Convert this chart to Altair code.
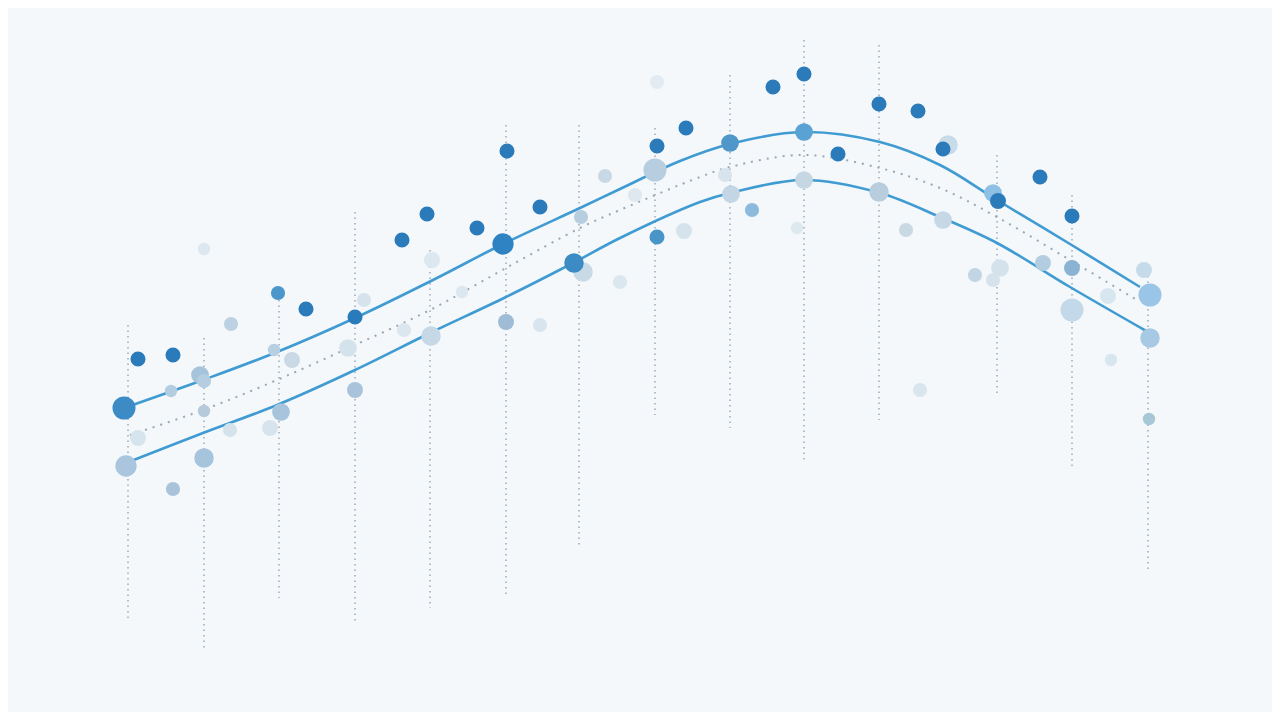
import altair as alt
import pandas as pd

# ---- vertical dotted guide lines (x, top, bottom) ----
guide_x = [128, 204, 279, 355, 430, 506, 579, 655, 730, 804, 879, 997, 1072, 1148]
guide_top = [325, 338, 300, 212, 250, 125, 125, 128, 75, 40, 45, 155, 195, 265]
guide_bot = [622, 650, 598, 622, 608, 597, 548, 415, 428, 462, 420, 395, 470, 572]

# ---- curves ----
upper_x = [124, 203, 277, 355, 433, 503, 580, 620, 680, 730, 803, 880, 940, 997, 1070, 1140]
upper_y = [408, 380, 352, 318, 280, 244, 208, 189, 161, 144, 132, 142, 165, 200, 244, 287]
mid_x = [130, 203, 277, 355, 430, 506, 580, 620, 700, 730, 803, 880, 940, 997, 1070, 1137]
mid_y = [435, 410, 380, 345, 310, 268, 228, 210, 177, 167, 155, 168, 188, 217, 260, 300]
lower_x = [126, 203, 277, 355, 430, 506, 573, 620, 700, 730, 803, 880, 940, 997, 1070, 1148]
lower_y = [463, 433, 405, 370, 333, 297, 263, 238, 202, 193, 180, 193, 217, 243, 287, 332]

# ---- scatter dots: x, y, diameter, colour ----
dot_x = [204, 231, 171, 200, 204, 204, 230, 274, 292, 281, 270, 138, 126, 204, 173,
         355, 348, 364, 404, 431, 432, 462, 506, 540, 581, 583, 605, 620, 657, 655,
         635, 684, 725, 731, 752, 797, 804, 879, 906, 920, 943, 948, 975, 993, 1000,
         993, 1043, 1072, 1072, 1108, 1111, 1144, 1150, 1150, 1149,
         657, 278,
         138, 173, 306, 355, 402, 427, 477, 507, 540, 657, 686, 773, 804, 838, 879,
         918, 943, 998, 1040, 1072,
         124, 503, 574, 730, 804]
dot_y = [249, 324, 391, 375, 381, 411, 430, 350, 360, 412, 428, 438, 466, 458, 489,
         390, 348, 300, 330, 336, 260, 292, 322, 325, 217, 272, 176, 282, 82, 170,
         195, 231, 175, 194, 210, 228, 180, 192, 230, 390, 220, 145, 275, 280, 268,
         193, 263, 268, 310, 296, 360, 270, 295, 338, 419,
         237, 293,
         359, 355, 309, 317, 240, 214, 228, 151, 207, 146, 128, 87, 74, 154, 104,
         111, 149, 201, 177, 216,
         408, 244, 263, 143, 132]
dot_d = [14, 16, 14, 20, 16, 14, 16, 14, 18, 20, 18, 18, 24, 22, 16,
         18, 20, 16, 16, 22, 18, 14, 18, 16, 16, 22, 16, 16, 16, 26,
         16, 18, 16, 20, 16, 14, 20, 22, 16, 16, 20, 22, 16, 16, 20,
         20, 18, 18, 26, 18, 14, 18, 26, 22, 14,
         17, 16,
         17, 17, 17, 17, 17, 17, 17, 17, 17, 17, 17, 17, 17, 17, 17,
         17, 17, 18, 17, 17,
         26, 24, 22, 20, 20]
dot_c = ["#dce7ef", "#bcd2e3", "#b2cde2", "#a6c3dc", "#b5cde0", "#b7cadb", "#d5e2ec",
         "#b7cfe2", "#cad9e5", "#a8c4dd", "#d8e4ed", "#d6e4ee", "#a9c6de", "#a7c4dd",
         "#a9c3da",
         "#a9c3da", "#d4e2ec", "#d6e3ec", "#dbe6ee", "#c6d8e6", "#dce7ef", "#dce7ef",
         "#9fbcd6", "#d8e5ee", "#b7cee0", "#c9dae7", "#c8d9e5", "#dbe7ef", "#e2ebf1",
         "#b7cde0",
         "#dfe8ef", "#d5e3ec", "#d8e4ed", "#c3d6e5", "#8cb9dc", "#dde8ef", "#c6d7e4",
         "#b8cede", "#c8d9e3", "#dae6ee", "#c6d8e5", "#c8dbe8", "#c1d5e3", "#d6e3ec",
         "#d4e2ec",
         "#8ebfe4", "#b3cde0", "#89b2d3", "#c3d9ea", "#d8e6f0", "#d8e6f0", "#c5dbea",
         "#9bc5e6", "#a7c9e3", "#a8c7d6",
         "#4a95c8", "#4b97cc",
         "#2b7bba", "#2b7bba", "#2b7bba", "#2b7bba", "#2b7bba", "#2b7bba", "#2b7bba",
         "#2b7bba", "#2b7bba", "#2b7bba", "#2b7bba", "#2b7bba", "#2b7bba", "#2b7bba",
         "#2b7bba", "#2b7bba", "#2b7bba", "#2b7bba", "#2b7bba", "#2b7bba",
         "#3d8bc4", "#2f83c2", "#3d8bc4", "#4f97c9", "#5aa2d4"]

BG = "#f4f8fb"
LINE = "#3f9bd1"

xs = alt.Scale(domain=[8, 1272], nice=False, zero=False)
ys = alt.Scale(domain=[8, 712], nice=False, zero=False, reverse=True)

guides = pd.DataFrame({"x": guide_x, "top": guide_top, "bot": guide_bot})
rules = alt.Chart(guides).mark_rule(
    color="#a3b0bd", strokeWidth=1.6, strokeDash=[1.5, 4]
).encode(
    x=alt.X("x:Q", scale=xs, axis=None),
    y=alt.Y("top:Q", scale=ys, axis=None),
    y2="bot:Q",
)

def curve(xv, yv, **kw):
    df = pd.DataFrame({"x": xv, "y": yv})
    return alt.Chart(df).mark_line(interpolate="catmull-rom", **kw).encode(
        x=alt.X("x:Q", scale=xs, axis=None),
        y=alt.Y("y:Q", scale=ys, axis=None),
        order="x:Q",
    )

upper = curve(upper_x, upper_y, color=LINE, strokeWidth=2.6)
lower = curve(lower_x, lower_y, color=LINE, strokeWidth=2.6)
middle = curve(mid_x, mid_y, color="#9aa7b4", strokeWidth=2, strokeDash=[2, 6])

dots_df = pd.DataFrame({
    "x": dot_x, "y": dot_y,
    "area": [3.1416 * d * d / 4 for d in dot_d],
    "c": dot_c,
    "o": list(range(len(dot_x))),
})
dots = alt.Chart(dots_df).mark_circle(opacity=1).encode(
    x=alt.X("x:Q", scale=xs, axis=None),
    y=alt.Y("y:Q", scale=ys, axis=None),
    size=alt.Size("area:Q", scale=None, legend=None),
    color=alt.Color("c:N", scale=None, legend=None),
    order="o:Q",
)

chart = alt.layer(rules, middle, upper, lower, dots).properties(
    width=1264, height=704, background=BG, padding=0,
    autosize=alt.AutoSizeParams(type="none"),
).configure_view(stroke=None, fill=BG)

chart.save("out.html", embed_options={"renderer": "svg", "actions": False})
